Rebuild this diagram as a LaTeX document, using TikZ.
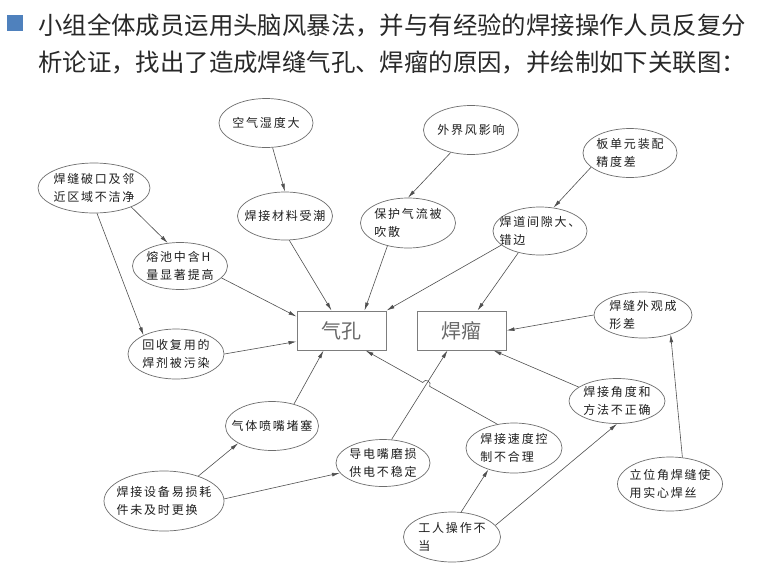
\documentclass[tikz,border=0pt]{standalone}
\usepackage{fontspec}
\setmainfont{Noto Sans CJK SC}
\newfontfamily\hdfont{Noto Sans CJK SC}
\newfontfamily\elfont[LetterSpace=15]{Noto Sans CJK SC}
\usetikzlibrary{shapes.geometric,arrows.meta,calc,intersections}
\definecolor{bulblue}{RGB}{79,129,189}
\definecolor{linegray}{RGB}{80,80,80}
\definecolor{edgegray}{RGB}{110,110,110}
\definecolor{boxtext}{RGB}{105,105,105}
\definecolor{txt}{RGB}{30,30,30}
\definecolor{hdtxt}{RGB}{40,40,40}
\begin{document}
\begin{tikzpicture}[x=1pt,y=-1pt,
  ell/.style={ellipse, draw=edgegray, line width=0.7pt, inner sep=0pt},
  lbl/.style={font=\elfont\fontsize{12}{18.5}\selectfont, text=txt, align=left, inner sep=0pt},
  bx/.style={rectangle, draw=edgegray!90, line width=1pt, minimum width=89pt, minimum height=39pt, inner sep=0pt, font=\hdfont\fontsize{20}{24}\selectfont, text=boxtext},
  arr/.style={draw=linegray, line width=0.6pt, -{Latex[length=8pt,width=3.8pt]}},
  hd/.style={anchor=west, inner sep=0pt, font=\hdfont\fontsize{24.4}{28}\selectfont, text=hdtxt}]
\useasboundingbox[fill=white] (0,0) rectangle (760,570);

% header
\node[fill=bulblue, minimum size=15.5pt, inner sep=0pt] (bul) at (15,23) {};
\node[hd] (hd1) at (38,25) {小组全体成员运用头脑风暴法，并与有经验的焊接操作人员反复分};
\node[hd] (hd2) at (38,62) {析论证，找出了造成焊缝气孔、焊瘤的原因，并绘制如下关联图：};

% ellipses
\node[ell, minimum width=94pt, minimum height=49pt] (a) at (266,123) {};
\node[lbl] (ta) at (a) {空气湿度大};
\node[ell, minimum width=95pt, minimum height=49pt] (b) at (471,130) {};
\node[lbl] (tb) at (b) {外界风影响};
\node[ell, minimum width=94pt, minimum height=49pt] (c) at (630,153) {};
\node[lbl] (tc) at (c) {板单元装配\\精度差};
\node[ell, minimum width=112pt, minimum height=50pt] (d) at (94,188) {};
\node[lbl] (td) at (d) {焊缝破口及邻\\近区域不洁净};
\node[ell, minimum width=95pt, minimum height=48pt] (e) at (285,216) {};
\node[lbl] (te) at (e) {焊接材料受潮};
\node[ell, minimum width=95pt, minimum height=50pt] (f) at (408,223) {};
\node[lbl] (tf) at (f) {保护气流被\\吹散};
\node[ell, minimum width=94pt, minimum height=48pt] (g) at (540,231) {};
\node[lbl] (tg) at (g) {焊道间隙大、\\错边};
\node[ell, minimum width=95pt, minimum height=47pt] (h) at (180,266) {};
\node[lbl] (th) at (h) {熔池中含H\\量显著提高};
\node[ell, minimum width=98pt, minimum height=46pt] (i) at (643,315) {};
\node[lbl] (ti) at (i) {焊缝外观成\\形差};
\node[ell, minimum width=96pt, minimum height=50pt] (j) at (176,354) {};
\node[lbl] (tj) at (j) {回收复用的\\焊剂被污染};
\node[ell, minimum width=96pt, minimum height=45pt] (k) at (617,401) {};
\node[lbl] (tk) at (k) {焊接角度和\\方法不正确};
\node[ell, minimum width=93pt, minimum height=49pt] (l) at (272,426) {};
\node[lbl] (tl) at (l) {气体喷嘴堵塞};
\node[ell, minimum width=94pt, minimum height=47pt] (m) at (383,463) {};
\node[lbl] (tm) at (m) {导电嘴磨损\\供电不稳定};
\node[ell, minimum width=96pt, minimum height=50pt] (n) at (514,448) {};
\node[lbl] (tn) at (n) {焊接速度控\\制不合理};
\node[ell, minimum width=120pt, minimum height=60pt] (o) at (164,501) {};
\node[lbl] (to) at (o) {焊接设备易损耗\\件未及时更换};
\node[ell, minimum width=105pt, minimum height=54pt] (p) at (670,484) {};
\node[lbl] (tp) at (p) {立位角焊缝使\\用实心焊丝};
\node[ell, minimum width=97pt, minimum height=50pt] (r) at (452,537) {};
\node[lbl] (tr) at (r) {工人操作不\\当};

% boxes
\node[bx] (q) at (341.5,330.5) {气孔};
\node[bx] (w) at (461.5,330.5) {焊瘤};

% connectors
\draw[arr] (a.285) -- (e.north);
\draw[arr] (d.333) -- (h.118);
\draw[arr] ([xshift=3pt]d.south) -- (j.150);
\draw[arr] (b.228) -- (f.north);
\draw[arr] (c.200) -- (g.60);
\draw[arr] (h.344) -- ([yshift=14pt]q.west);
\draw[arr] (j.0) -- ([yshift=-11pt]q.west);
\draw[arr] (e.280) -- ([xshift=-10pt]q.north);
\draw[arr] (f.228) -- ([xshift=23pt]q.north);
\draw[arr] (g.200) -- (q.north east);
\draw[arr] (g.225) -- ([xshift=16pt]w.north);
\draw[arr] (i.west) -- (w.east);
\draw[arr] (p.65) -- (i.325);
\draw[arr] (k.160) -- ([xshift=32pt]w.south);
\draw[arr] (r.70) -- (n.220);
\draw[arr] (r.15) -- (k.south);
\draw[arr, name path=pB] (m.70) -- ([xshift=-14pt]w.south);
\draw[arr] (l.45) -- ([xshift=-18pt]q.south);
\draw[arr] (o.36) -- (l.207);
\draw[arr] (o.2) -- (m.193);

% line with jump over crossing
\path[name path=pA] (n.125) -- ([xshift=24pt]q.south);
\path[name intersections={of=pA and pB, by=xj}];
\coordinate (xa) at ($(xj)!4pt!(n.125)$);
\coordinate (xb) at ($(xj)!4pt!([xshift=24pt]q.south)$);
\draw[arr] (n.125) -- (xa) .. controls ($(xa)!5.3pt!-90:(xb)$) and ($(xb)!5.3pt!90:(xa)$) .. (xb) -- ([xshift=24pt]q.south);
\end{tikzpicture}
\end{document}
